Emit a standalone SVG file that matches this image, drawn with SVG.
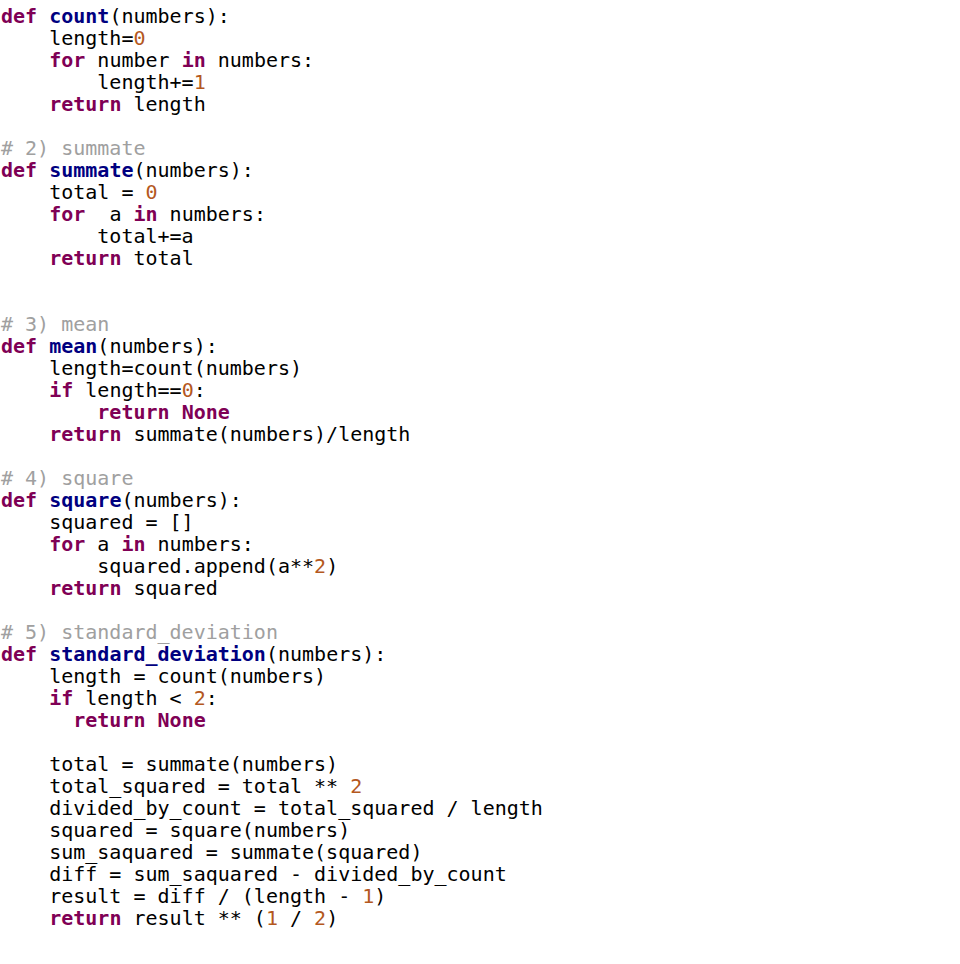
<svg xmlns="http://www.w3.org/2000/svg" width="960" height="964" viewBox="0 0 960 964">
<style>
text{font-family:"DejaVu Sans Mono","Liberation Mono",monospace;font-size:20px;fill:#000;white-space:pre}
.k{fill:#7f0055;font-weight:bold}
.f{fill:#000080;font-weight:bold}
.n{fill:#b4581e}
.c{fill:#a0a0a0}
</style>
<rect width="960" height="964" fill="#fff"/>
<g id="code" xml:space="preserve">
<text x="1" y="23"><tspan class="k">def</tspan> <tspan class="f">count</tspan>(numbers):</text>
<text x="1" y="45">    length=<tspan class="n">0</tspan></text>
<text x="1" y="67">    <tspan class="k">for</tspan> number <tspan class="k">in</tspan> numbers:</text>
<text x="1" y="89">        length+=<tspan class="n">1</tspan></text>
<text x="1" y="111">    <tspan class="k">return</tspan> length</text>
<text x="1" y="155" class="c"># 2) summate</text>
<text x="1" y="177"><tspan class="k">def</tspan> <tspan class="f">summate</tspan>(numbers):</text>
<text x="1" y="199">    total = <tspan class="n">0</tspan></text>
<text x="1" y="221">    <tspan class="k">for</tspan>  a <tspan class="k">in</tspan> numbers:</text>
<text x="1" y="243">        total+=a</text>
<text x="1" y="265">    <tspan class="k">return</tspan> total</text>
<text x="1" y="331" class="c"># 3) mean</text>
<text x="1" y="353"><tspan class="k">def</tspan> <tspan class="f">mean</tspan>(numbers):</text>
<text x="1" y="375">    length=count(numbers)</text>
<text x="1" y="397">    <tspan class="k">if</tspan> length==<tspan class="n">0</tspan>:</text>
<text x="1" y="419">        <tspan class="k">return</tspan> <tspan class="k">None</tspan></text>
<text x="1" y="441">    <tspan class="k">return</tspan> summate(numbers)/length</text>
<text x="1" y="485" class="c"># 4) square</text>
<text x="1" y="507"><tspan class="k">def</tspan> <tspan class="f">square</tspan>(numbers):</text>
<text x="1" y="529">    squared = []</text>
<text x="1" y="551">    <tspan class="k">for</tspan> a <tspan class="k">in</tspan> numbers:</text>
<text x="1" y="573">        squared.append(a**<tspan class="n">2</tspan>)</text>
<text x="1" y="595">    <tspan class="k">return</tspan> squared</text>
<text x="1" y="639" class="c"># 5) standard_deviation</text>
<text x="1" y="661"><tspan class="k">def</tspan> <tspan class="f">standard_deviation</tspan>(numbers):</text>
<text x="1" y="683">    length = count(numbers)</text>
<text x="1" y="705">    <tspan class="k">if</tspan> length &lt; <tspan class="n">2</tspan>:</text>
<text x="1" y="727">      <tspan class="k">return</tspan> <tspan class="k">None</tspan></text>
<text x="1" y="771">    total = summate(numbers)</text>
<text x="1" y="793">    total_squared = total ** <tspan class="n">2</tspan></text>
<text x="1" y="815">    divided_by_count = total_squared / length</text>
<text x="1" y="837">    squared = square(numbers)</text>
<text x="1" y="859">    sum_saquared = summate(squared)</text>
<text x="1" y="881">    diff = sum_saquared - divided_by_count</text>
<text x="1" y="903">    result = diff / (length - <tspan class="n">1</tspan>)</text>
<text x="1" y="925">    <tspan class="k">return</tspan> result ** (<tspan class="n">1</tspan> / <tspan class="n">2</tspan>)</text>
</g>
</svg>
